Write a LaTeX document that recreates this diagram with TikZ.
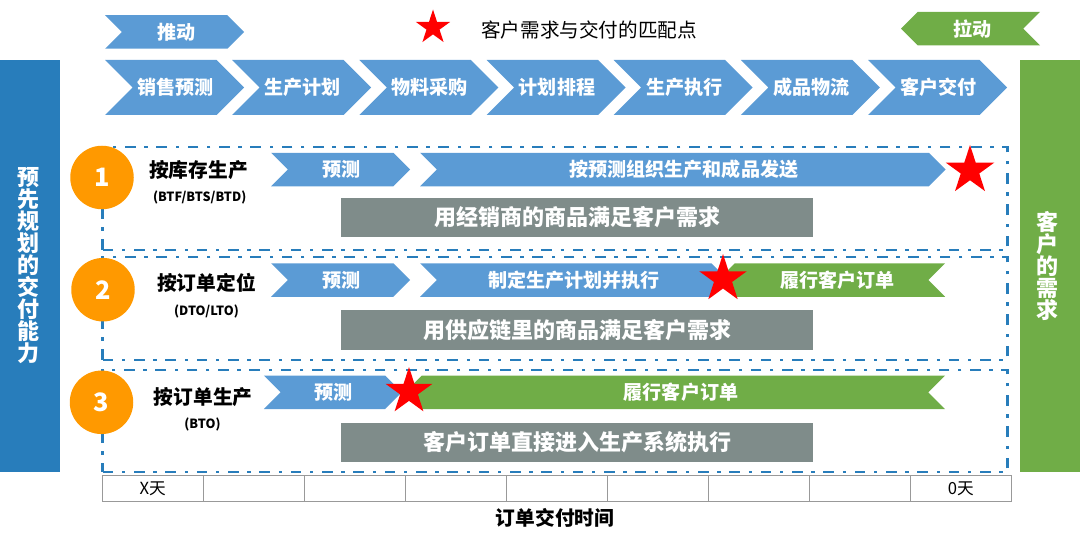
\documentclass[tikz,border=0pt]{standalone}
\usepackage{fontspec}
\setmainfont{Noto Sans CJK SC}
\usepackage{xcolor}
\usepackage{tikz}
\usetikzlibrary{positioning, shapes.geometric, shapes.symbols}
\definecolor{pushblue}{RGB}{91,155,213}
\definecolor{pullgreen}{RGB}{112,173,71}
\definecolor{barblue}{RGB}{40,125,187}
\definecolor{meetgray}{RGB}{127,140,138}
\definecolor{stepdot}{RGB}{255,153,0}
\newcommand{\pxu}{0.75pt}
\tikzset{
    pushbig/.style={signal, signal to=east, signal from=west, signal pointer angle=90, fill=pushblue, text=white, inner sep=0pt, outer sep=0pt, minimum width=139*\pxu, minimum height=55*\pxu, font=\fontsize{14.3}{16}\selectfont\bfseries},
    pushsmall/.style={pushbig, minimum height=33.5*\pxu},
    pullsmall/.style={signal, signal to=west, signal from=east, signal pointer angle=90, fill=pullgreen, text=white, inner sep=0pt, outer sep=0pt, minimum height=33.5*\pxu, font=\fontsize{14.3}{16}\selectfont\bfseries},
    meetbox/.style={fill=meetgray, text=white, inner sep=0pt, outer sep=0pt, minimum width=472*\pxu, minimum height=39.5*\pxu, font=\fontsize{16.5}{18}\selectfont\bfseries},
    sidebar/.style={inner sep=0pt, outer sep=0pt, minimum width=60*\pxu, minimum height=412*\pxu, text=white, align=center, font=\fontsize{16.5}{16.5}\selectfont\bfseries},
    dashbox/.style={draw=barblue, line width=2pt, dash pattern=on 8pt off 6.5pt on 2.5pt off 6.5pt, inner sep=0pt, outer sep=0pt, minimum width=905*\pxu},
    stepdisc/.style={circle, fill=stepdot, text=white, inner sep=0pt, minimum size=63.5*\pxu, font=\fontsize{19}{21}\selectfont\bfseries},
    redstar/.style={star, star points=5, star point ratio=2.618, fill=red, inner sep=0pt, outer sep=0pt},
    daycell/.style={draw=black!40, line width=0.8pt, inner sep=0pt, outer sep=0pt, minimum width=101*\pxu, minimum height=25.7*\pxu, font=\fontsize{12.5}{14}\selectfont},
    modetitle/.style={font=\fontsize{14.8}{16}\selectfont\bfseries},
    modecode/.style={font=\fontsize{9.5}{11}\selectfont\bfseries},
    nudge/.style={execute at begin node=\hspace*{#1}},
}
\begin{document}
\begin{tikzpicture}[x=0.75pt, y=-0.75pt]
    \useasboundingbox (0,0) rectangle (1080,549);

    % side bars
    \node (supply_bar) [sidebar, fill=barblue] at (30,266) {};
    \node (supply_text) [sidebar, minimum height=0pt] at (28,266) {预\\先\\规\\划\\的\\交\\付\\能\\力};
    \node (demand_bar) [sidebar, fill=pullgreen] at (1050,266) {};
    \node (demand_text) [sidebar, minimum height=0pt] at (1047,266) {客\\户\\的\\需\\求};

    % legend row
    \node (push) [pushsmall, nudge=3pt] at (174.5,32) {推动};
    \node (pull) [pullsmall, nudge=3pt, minimum width=139*\pxu] at (970.5,28.7) {拉动};
    \node (legend_star) [redstar, minimum size=36*\pxu] at (433,27.5) {};
    \node (legend_text) [font=\fontsize{14.7}{16}\selectfont] at (589,30) {客户需求与交付的匹配点};

    % process row
    \node (forecast) [pushbig, nudge=1.5pt] at (174.5,87.5) {销售预测};
    \node (plan) [pushbig, nudge=1.5pt, right=15.67*\pxu of forecast] {生产计划};
    \node (purchase) [pushbig, nudge=1.5pt, right=15.67*\pxu of plan] {物料采购};
    \node (schedule) [pushbig, nudge=1.5pt, right=15.67*\pxu of purchase] {计划排程};
    \node (execute) [pushbig, nudge=1.5pt, right=15.67*\pxu of schedule] {生产执行};
    \node (logistics) [pushbig, nudge=1.5pt, right=15.67*\pxu of execute] {成品物流};
    \node (delivery) [pushbig, nudge=1.5pt, right=15.67*\pxu of logistics] {客户交付};

    % dashed frames
    \node (frame_one) [dashbox, minimum height=103*\pxu] at (555.3,198.5) {};
    \node (frame_two) [dashbox, minimum height=103*\pxu] at (555.3,308.5) {};
    \node (frame_three) [dashbox, minimum height=102*\pxu] at (555.3,421) {};

    % first mode
    \node (disc_one) [stepdisc] at (102,177.5) {1};
    \node (title_one) [modetitle] at (198.5,170) {按库存生产};
    \node (code_one) [modecode] at (199.7,197.7) {(BTF/BTS/BTD)};
    \node (guess_one) [pushsmall, nudge=1.5pt] at (340.5,169.5) {预测};
    \node (build_one) [pushsmall, nudge=1.5pt, minimum width=525.6*\pxu] at (682.8,169.5) {按预测组织生产和成品发送};
    \node (meet_one) [meetbox] at (577.2,217.5) {用经销商的商品满足客户需求};

    % second mode
    \node (disc_two) [stepdisc] at (103,289.7) {2};
    \node (title_two) [modetitle] at (206.5,283.3) {按订单定位};
    \node (code_two) [modecode] at (206.5,311) {(DTO/LTO)};
    \node (guess_two) [pushsmall, nudge=1.5pt] at (340.5,280) {预测};
    \node (build_two) [pushsmall, minimum width=308*\pxu] at (574,280) {制定生产计划并执行};
    \node (fill_two) [pullsmall, nudge=9pt, minimum width=227*\pxu] at (831.5,280) {履行客户订单};
    \node (meet_two) [meetbox] at (577.2,330) {用供应链里的商品满足客户需求};

    % third mode
    \node (disc_three) [stepdisc] at (101.5,402.3) {3};
    \node (title_three) [modetitle] at (203.3,396.7) {按订单生产};
    \node (code_three) [modecode] at (202.5,424.3) {(BTO)};
    \node (guess_three) [pushsmall, nudge=1.5pt, minimum width=138*\pxu] at (332.8,392.3) {预测};
    \node (fill_three) [pullsmall, nudge=9pt, minimum width=540*\pxu] at (675,392.3) {履行客户订单};
    \node (meet_three) [meetbox] at (577.2,442.5) {客户订单直接进入生产系统执行};

    % matching points
    \node (star_one) [redstar, minimum size=51*\pxu] at (970,170.5) {};
    \node (star_two) [redstar, minimum size=50*\pxu] at (723,279) {};
    \node (star_three) [redstar, minimum size=49*\pxu] at (409,391.5) {};

    % time scale
    \node (day_first) [daycell] at (152.8,488.8) {X天};
    \node (day_b) [daycell, right=0pt of day_first] {};
    \node (day_c) [daycell, right=0pt of day_b] {};
    \node (day_d) [daycell, right=0pt of day_c] {};
    \node (day_e) [daycell, right=0pt of day_d] {};
    \node (day_f) [daycell, right=0pt of day_e] {};
    \node (day_g) [daycell, right=0pt of day_f] {};
    \node (day_h) [daycell, right=0pt of day_g] {};
    \node (day_last) [daycell, right=0pt of day_h] {0天};
    \node (time_label) [font=\fontsize{14.8}{16}\selectfont\bfseries] at (555,518) {订单交付时间};
\end{tikzpicture}
\end{document}
